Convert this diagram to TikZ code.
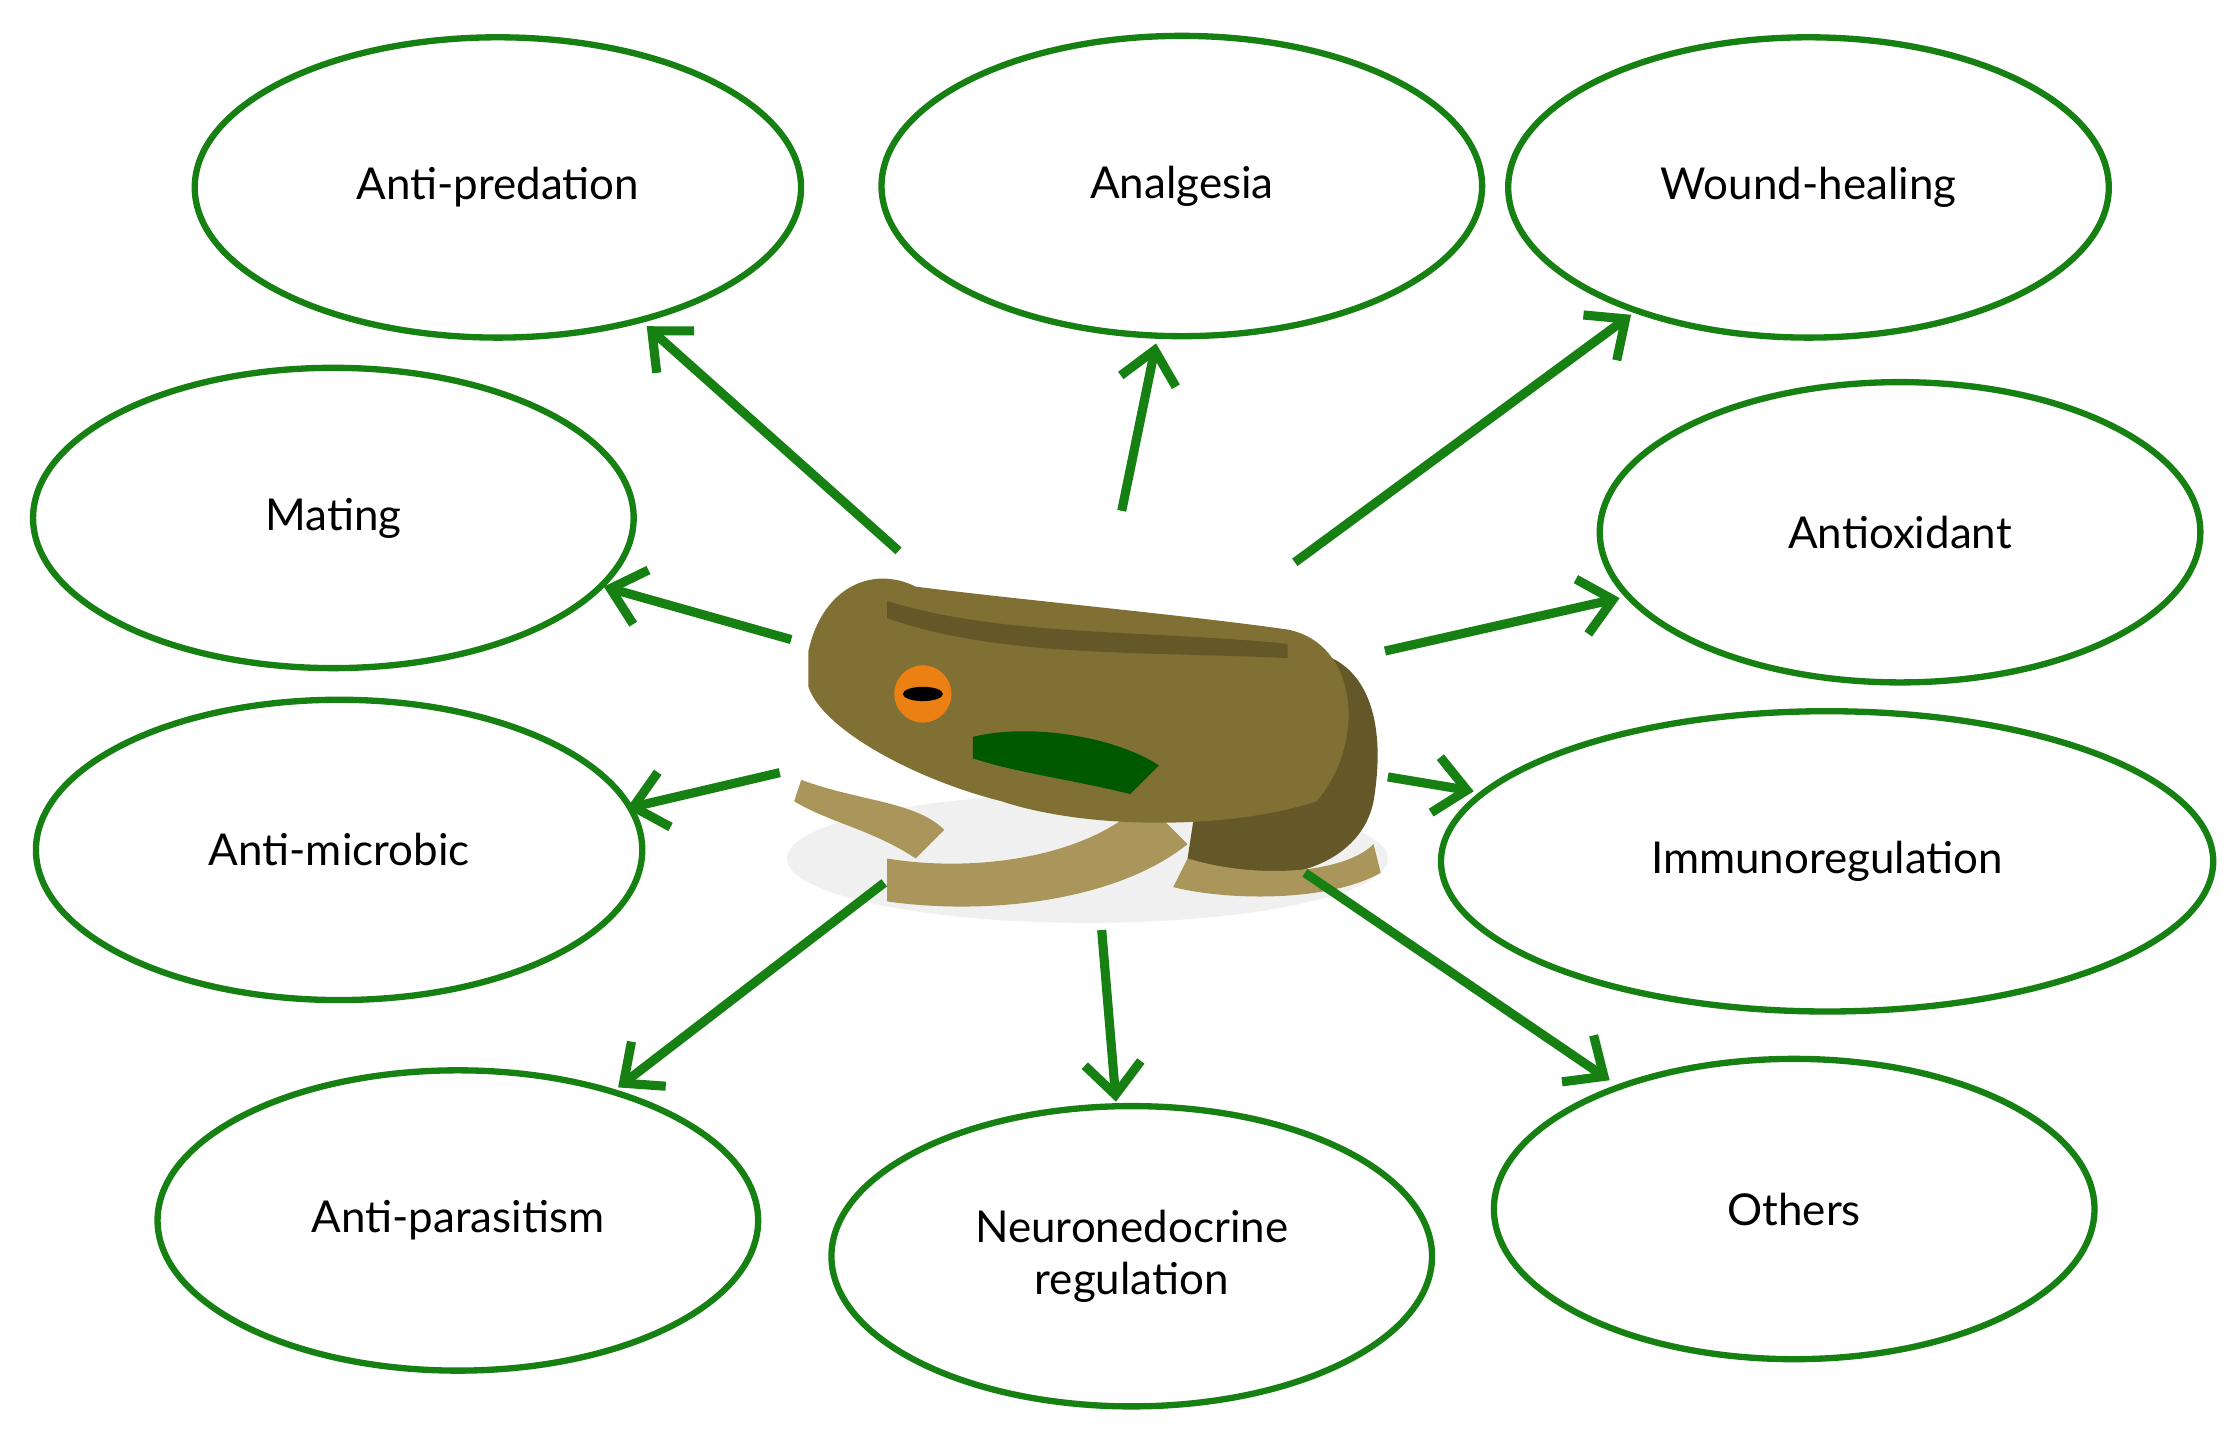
\documentclass[tikz,border=0pt]{standalone}
\usepackage{fontspec}
\setmainfont{Lato}
\usetikzlibrary{shapes.geometric,arrows.meta}
\definecolor{fgreen}{RGB}{22,128,18}
\definecolor{olive1}{RGB}{128,112,52}
\definecolor{olive2}{RGB}{100,88,40}
\definecolor{leg}{RGB}{170,150,90}
\tikzset{
 bub/.style 2 args={ellipse, draw=fgreen, line width=1.8pt, inner sep=0pt,
   minimum width=#1*0.028616cm, minimum height=#2*0.028616cm,
   font=\fontsize{12.5}{15}\selectfont, align=center},
 arr/.style={draw=fgreen, line width=2.6pt, -{Straight Barb[length=9pt,width=16pt,line width=2.6pt]}}
}
\begin{document}
\begin{tikzpicture}[x=0.014308cm,y=-0.014308cm]
\useasboundingbox (0,0) rectangle (1560,1007);
% frog backdrop
\fill[white] (760,522) ellipse (220 and 125);
\fill[gray!12] (760,600) ellipse (210 and 45);
% stylized frog
\fill[leg] (560,545) .. controls (600,560) and (640,560) .. (660,580) -- (640,600) .. controls (610,580) and (580,575) .. (555,560) -- cycle;
\fill[leg] (620,600) .. controls (680,610) and (760,600) .. (800,560) -- (830,590) .. controls (780,630) and (690,640) .. (620,630) -- cycle;
\fill[olive2] (850,470) .. controls (930,430) and (975,470) .. (960,560) .. controls (950,610) and (880,625) .. (830,600) -- cycle;
\fill[leg] (830,600) .. controls (880,615) and (940,610) .. (960,590) -- (965,610) .. controls (930,630) and (860,630) .. (820,620) -- cycle;
\fill[olive1] (565,455) .. controls (575,410) and (610,395) .. (640,410) .. controls (720,420) and (830,430) .. (900,440) .. controls (950,450) and (955,520) .. (920,560) .. controls (860,580) and (760,580) .. (700,560) .. controls (640,545) and (575,510) .. (565,480) -- cycle;
\fill[green!35!black] (680,515) .. controls (720,505) and (780,515) .. (810,535) -- (790,555) .. controls (750,545) and (710,540) .. (680,530) -- cycle;
\fill[olive2] (620,420) .. controls (700,445) and (800,440) .. (900,450) -- (900,460) .. controls (800,455) and (700,460) .. (620,432) -- cycle;
\fill[orange!70!brown] (645,485) circle (20);
\fill[black] (645,485) ellipse (14 and 5);
% ellipses
\node[bub={212}{105}] (ap) at (348,131) {Anti-predation};
\node[bub={210}{105}] (an) at (826,130) {Analgesia};
\node[bub={210}{105}] (wh) at (1264,131) {Wound-healing};
\node[bub={210}{105}] (ma) at (233,362) {Mating};
\node[bub={210}{105}] (ao) at (1328,372) {Antioxidant};
\node[bub={212}{105}] (am) at (237,594) {Anti-microbic};
\node[bub={270}{105}] (im) at (1277,602) {Immunoregulation};
\node[bub={210}{105}] (pa) at (320,853) {Anti-parasitism};
\node[bub={210}{105}] (ne) at (791,878) {Neuronedocrine\\regulation};
\node[bub={210}{105}] (ot) at (1254,845) {Others};
% arrow endpoints
\coordinate (s1) at (628,385); \coordinate (e1) at (452,228);
\coordinate (s2) at (784,357); \coordinate (e2) at (808,240);
\coordinate (s3) at (905,393); \coordinate (e3) at (1140,220);
\coordinate (s4) at (553,447); \coordinate (e4) at (422,410);
\coordinate (s5) at (968,455); \coordinate (e5) at (1132,418);
\coordinate (s6) at (545,540); \coordinate (e6) at (438,565);
\coordinate (s7) at (970,543); \coordinate (e7) at (1030,553);
\coordinate (s8) at (618,617); \coordinate (e8) at (432,760);
\coordinate (s9) at (770,650); \coordinate (e9) at (780,770);
\coordinate (s10) at (912,610); \coordinate (e10) at (1125,755);
\foreach \i in {1,...,10} \draw[arr] (s\i) -- (e\i);
\end{tikzpicture}
\end{document}
